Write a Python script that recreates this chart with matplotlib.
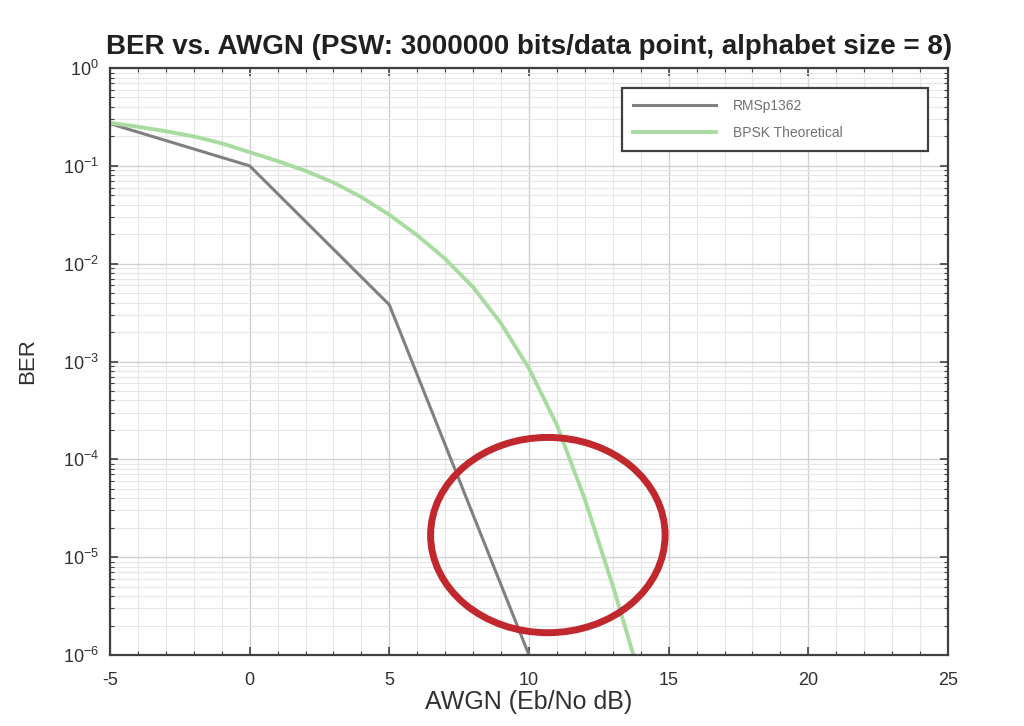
import matplotlib.pyplot as plt
from matplotlib.patches import Ellipse
from matplotlib.ticker import LogLocator, MultipleLocator, NullFormatter

# measured curve (RMSp1362), points every 5 dB
ebno_meas = [-5, 0, 5, 10]
ber_meas = [0.27, 0.1, 3.8e-3, 1.0e-6]

# theoretical BPSK curve as drawn, every 1 dB
ebno_theory = [-5, -4, -3, -2, -1, 0, 1, 2, 3, 4, 5, 6, 7, 8, 9, 10, 11, 12, 13, 14]
ber_theory = [0.275, 0.251, 0.226, 0.200, 0.170, 0.138, 0.112, 0.089, 0.0676, 0.0479,
              0.0316, 0.0195, 0.0112, 5.75e-3, 2.45e-3, 8.5e-4, 2.24e-4, 3.9e-5, 5.1e-6, 5.6e-7]

labels = ["RMSp1362", "BPSK Theoretical"]
ber_ticks = [1e-6, 1e-5, 1e-4, 1e-3, 1e-2, 1e-1, 1]

plt.rcParams["font.family"] = ["Liberation Sans", "DejaVu Sans"]
plt.rcParams["axes.unicode_minus"] = False

fig = plt.figure(figsize=(10.24, 7.26), dpi=100)
ax = fig.add_axes([0.1074, 0.0978, 0.8184, 0.8085])

ax.semilogy(ebno_meas, ber_meas, color="#808080", lw=2.2, label=labels[0])
ax.semilogy(ebno_theory, ber_theory, color="#a8dba0", lw=2.8, label=labels[1])

ax.set_xlim(-5, 25)
ax.set_ylim(1e-6, 1)
ax.xaxis.set_major_locator(MultipleLocator(5))
ax.xaxis.set_minor_locator(MultipleLocator(1))
ax.set_yticks(ber_ticks)
ax.yaxis.set_minor_locator(LogLocator(base=10, subs=range(2, 10), numticks=20))
ax.yaxis.set_minor_formatter(NullFormatter())

ax.grid(which="major", color="#d0d0d0", lw=1.0)
ax.grid(which="minor", color="#e6e6e6", lw=0.8)
ax.set_axisbelow(True)

ax.tick_params(which="both", direction="in", top=True, right=True, colors="#404040",
               labelcolor="#303030", labelsize=13)
ax.tick_params(which="major", length=6, width=1.2)
ax.tick_params(which="minor", length=3, width=0.8)
ax.tick_params(axis="x", which="major", pad=12)
ax.tick_params(axis="y", which="major", pad=8)
for s in ax.spines.values():
    s.set_color("#404040")
    s.set_linewidth(1.6)

ax.set_title("BER vs. AWGN (PSW: 3000000 bits/data point, alphabet size = 8)",
             fontsize=20, fontweight="bold", color="#202020", pad=10)
ax.set_xlabel("AWGN (Eb/No dB)", fontsize=18, color="#303030", labelpad=1)
ax.set_ylabel("BER", fontsize=16, color="#303030", labelpad=18)

leg = ax.legend(loc="upper left", bbox_to_anchor=(0.611, 0.852, 0.365, 0.114),
                mode="expand", borderaxespad=0, fontsize=10, handlelength=6,
                handletextpad=1.2, labelspacing=0.9, borderpad=0.8,
                fancybox=False, framealpha=1)
leg.get_frame().set_edgecolor("#404040")
leg.get_frame().set_linewidth(1.6)
for t in leg.get_texts():
    t.set_color("#707070")

# red annotation ring drawn over the chart
ring = Ellipse((0.535, 0.263), 0.229, 0.269, transform=fig.transFigure,
               fill=False, edgecolor="#c0282d", lw=5, zorder=10)
fig.add_artist(ring)

fig.savefig("out.png", dpi=100)
